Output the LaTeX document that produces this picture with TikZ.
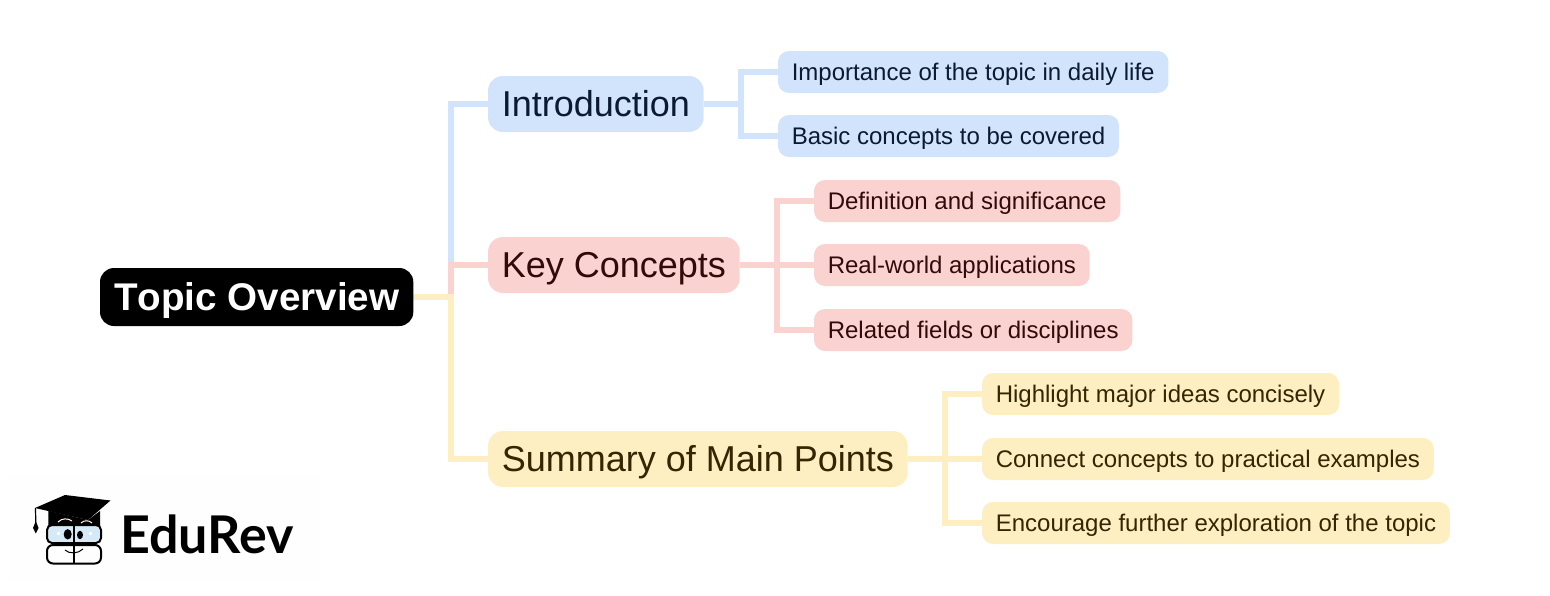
\documentclass[tikz,border=0pt]{standalone}
\usepackage{fontspec}
\setmainfont{Liberation Sans}
\newfontfamily\logofont{Lato}
\newfontfamily\rootfont[Kerning=Off]{Liberation Sans}
\usetikzlibrary{backgrounds}
\definecolor{bluefill}{HTML}{D2E3FC}
\definecolor{redfill}{HTML}{FAD2CF}
\definecolor{yellowfill}{HTML}{FEEFC3}
\definecolor{bluetext}{HTML}{0A1A33}
\definecolor{redtext}{HTML}{330A0A}
\definecolor{yellowtext}{HTML}{332600}
\definecolor{glass}{HTML}{D5EAF6}
\definecolor{logoback}{HTML}{FEFEFE}

\begin{document}
\begin{tikzpicture}[x=1pt,y=-1pt]
    % `root' is the black box, `branch' the three middle boxes, `leaf' the small ones.
    \tikzstyle{box} = [anchor=west,outer sep=0pt,inner xsep=13.8pt,inner ysep=8pt]
    \tikzstyle{root} = [box,inner xsep=14pt,fill=black,text=white,rounded corners=14pt,font=\rootfont\fontsize{38.6}{44}\selectfont\bfseries,text height=34pt,text depth=8pt]
    \tikzstyle{branch} = [box,rounded corners=15pt,font=\fontsize{36}{42}\selectfont,text height=32pt,text depth=8pt]
    \tikzstyle{leaf} = [box,rounded corners=11pt,font=\fontsize{24}{28}\selectfont,text height=21pt,text depth=5pt]
    \tikzstyle{bluebox} = [fill=bluefill,text=bluetext]
    \tikzstyle{redbox} = [fill=redfill,text=redtext]
    \tikzstyle{yellowbox} = [fill=yellowfill,text=yellowtext]
    \tikzstyle{link} = [line width=6pt]
    \useasboundingbox (0,0) rectangle (1550,595);
    %
    \node[root] (root) at (100,297) {Topic Overview};
    %
    \node[branch,bluebox] (intro) at (488,104) {Introduction};
    \node[leaf,bluebox] (I1) at (778,72) {Importance of the topic in daily life};
    \node[leaf,bluebox] (I2) at (778,136) {Basic concepts to be covered};
    %
    \node[branch,redbox] (key) at (488,265) {Key Concepts};
    \node[leaf,redbox] (K1) at (814,201) {Definition and significance};
    \node[leaf,redbox] (K2) at (814,265) {Real-world applications};
    \node[leaf,redbox] (K3) at (814,330) {Related fields or disciplines};
    %
    \node[branch,yellowbox] (summ) at (488,459) {Summary of Main Points};
    \node[leaf,yellowbox] (S1) at (982,394) {Highlight major ideas concisely};
    \node[leaf,yellowbox] (S2) at (982,459) {Connect concepts to practical examples};
    \node[leaf,yellowbox] (S3) at (982,523) {Encourage further exploration of the topic};
    %
    \coordinate (rootfork) at (451,297);
    \coordinate (introfork) at (741,104);
    \coordinate (keyfork) at (777,265);
    \coordinate (summfork) at (945,459);

    \begin{pgfonlayer}{background}
        % Draw lines, yellow goes last.
        \draw[link,bluefill] (root.east) -- (rootfork) |- (intro.west);
        \draw[link,bluefill] (intro.east) -- (introfork) |- (I1.west);
        \draw[link,bluefill] (introfork) |- (I2.west);
        \draw[link,redfill] (root.east) -- (rootfork) |- (key.west);
        \draw[link,redfill] (key.east) -- (K2.west);
        \draw[link,redfill] (keyfork) |- (K1.west);
        \draw[link,redfill] (keyfork) |- (K3.west);
        \draw[link,yellowfill] (root.east) -- (rootfork) |- (summ.west);
        \draw[link,yellowfill] (summ.east) -- (S2.west);
        \draw[link,yellowfill] (summfork) |- (S1.west);
        \draw[link,yellowfill] (summfork) |- (S3.west);
    \end{pgfonlayer}

    % Logo in the corner.
    \fill[logoback] (10,476) rectangle (320,580);
    \fill (35,508) -- (65,495) -- (110.5,500.5) -- (88,520) -- cycle;
    \fill (48.3,510.7) -- (48.3,526) -- (100,526) -- (100,511) -- (88,520) -- cycle;
    \draw[line width=1.2pt] (35.5,508) -- (35.8,523);
    \fill (35.8,521) -- (38.6,528) -- (35.8,533.5) -- (33,528) -- cycle;
    \draw[white,line width=1pt] (58,522) .. controls (62,518) and (68,518) .. (72,521);
    \draw[white,line width=1pt] (81,523) .. controls (84,520) and (89,520) .. (92,523);
    \draw[line width=2pt,fill=glass,rounded corners=5pt] (47,525) rectangle (101,543);
    \draw[line width=2pt,rounded corners=6pt] (47,545) rectangle (101,563.5);
    \draw[line width=2pt] (74.3,517) -- (74.3,564);
    \fill (67.7,534.3) ellipse (4pt and 5.2pt);
    \fill (80,535) ellipse (3pt and 4.2pt);
    \fill[white] (56.5,532) rectangle (60,535);
    \fill[white] (88.5,532) rectangle (92,535);
    \draw[line width=1pt] (65,550) .. controls (69,554) and (78,554) .. (83,549);
    \node[anchor=base west,inner sep=0pt,font=\fontsize{52}{58}\selectfont\logofont\bfseries] (logo) at (120,553) {EduRev};
\end{tikzpicture}
\end{document}
